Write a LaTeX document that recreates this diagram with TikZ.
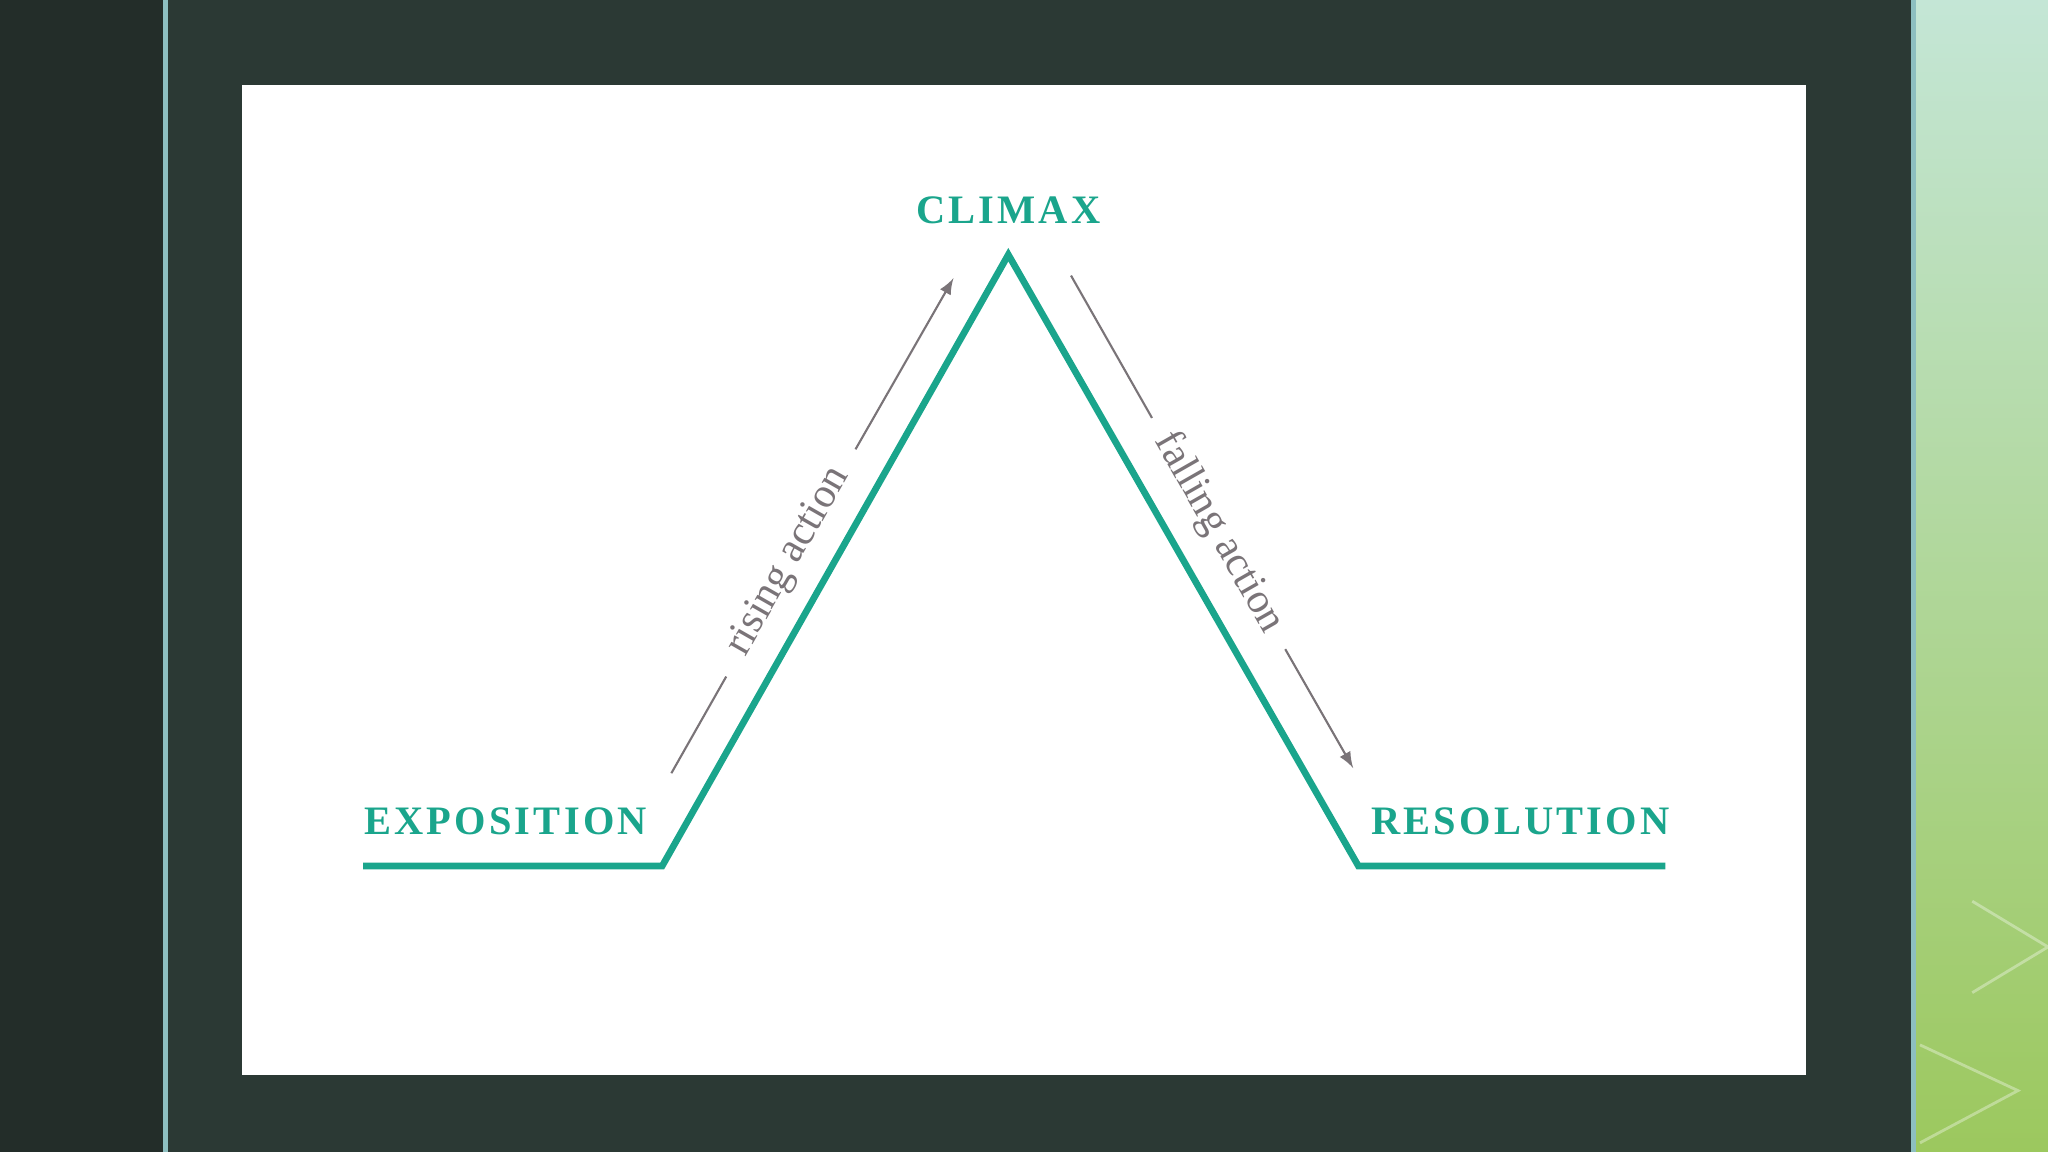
\documentclass[tikz,border=0pt]{standalone}
\usepackage{fontspec}
\setmainfont{Liberation Serif}
\newfontfamily\capsfont[LetterSpace=8]{Liberation Serif}
\definecolor{darkL}{HTML}{232D29}
\definecolor{darkM}{HTML}{2B3934}
\definecolor{rule}{HTML}{8DBFC0}
\definecolor{teal}{HTML}{1AA58C}
\definecolor{graytxt}{HTML}{7A7478}
\definecolor{gtop}{HTML}{C4E6D6}
\definecolor{gbot}{HTML}{9CC85E}
\begin{document}
\begin{tikzpicture}[x=0.013061cm,y=-0.013061cm,
  lab/.style={text=teal,font=\capsfont\bfseries\fontsize{11.5}{11.5}\selectfont,inner sep=0pt},
  act/.style={text=graytxt,font=\fontsize{12}{12}\selectfont,inner sep=0pt},
  arr/.style={draw=graytxt,line width=0.6pt},
  plot/.style={draw=teal,line width=1.9pt}]
\useasboundingbox (0,0) rectangle (1568,882);
\fill[darkM] (0,0) rectangle (1568,882);
\fill[darkL] (0,0) rectangle (125,882);
\fill[rule] (125,0) rectangle (129,882);
\fill[rule] (1463,0) rectangle (1467,882);
\shade[top color=gtop,bottom color=gbot] (1467,0) rectangle (1568,882);
\draw[white,opacity=0.35,line width=0.8pt] (1510,690) -- (1568,725) -- (1510,760);
\draw[white,opacity=0.35,line width=0.8pt] (1470,800) -- (1545,835) -- (1470,875);
\fill[white] (185,65) rectangle (1383,823);
% plot line
\coordinate (e0) at (278,663);
\coordinate (e1) at (507,663);
\coordinate (c) at (772,195);
\coordinate (r0) at (1040,663);
\coordinate (r1) at (1275,663);
\draw[plot,line join=miter] (e0) -- (e1) -- (c) -- (r0) -- (r1);
\node[lab] (climax) at (772,161) {CLIMAX};
\node[lab] (expo) at (387,629) {EXPOSITION};
\node[lab] (reso) at (1164,629) {RESOLUTION};
% rising action
\coordinate (ra0) at (514,592);
\coordinate (ra1) at (556,518);
\coordinate (ra2) at (655,344);
\coordinate (ra3) at (730,213);
\draw[arr] (ra0) -- (ra1);
\draw[arr,-latex] (ra2) -- (ra3);
\node[act,rotate=60.3] (rising) at (604,430) {rising action};
% falling action
\coordinate (fa0) at (820,211);
\coordinate (fa1) at (882,320);
\coordinate (fa2) at (984,497);
\coordinate (fa3) at (1036,588);
\draw[arr] (fa0) -- (fa1);
\draw[arr,-latex] (fa2) -- (fa3);
\node[act,rotate=-60.3] (falling) at (933,408) {falling action};
\end{tikzpicture}
\end{document}
